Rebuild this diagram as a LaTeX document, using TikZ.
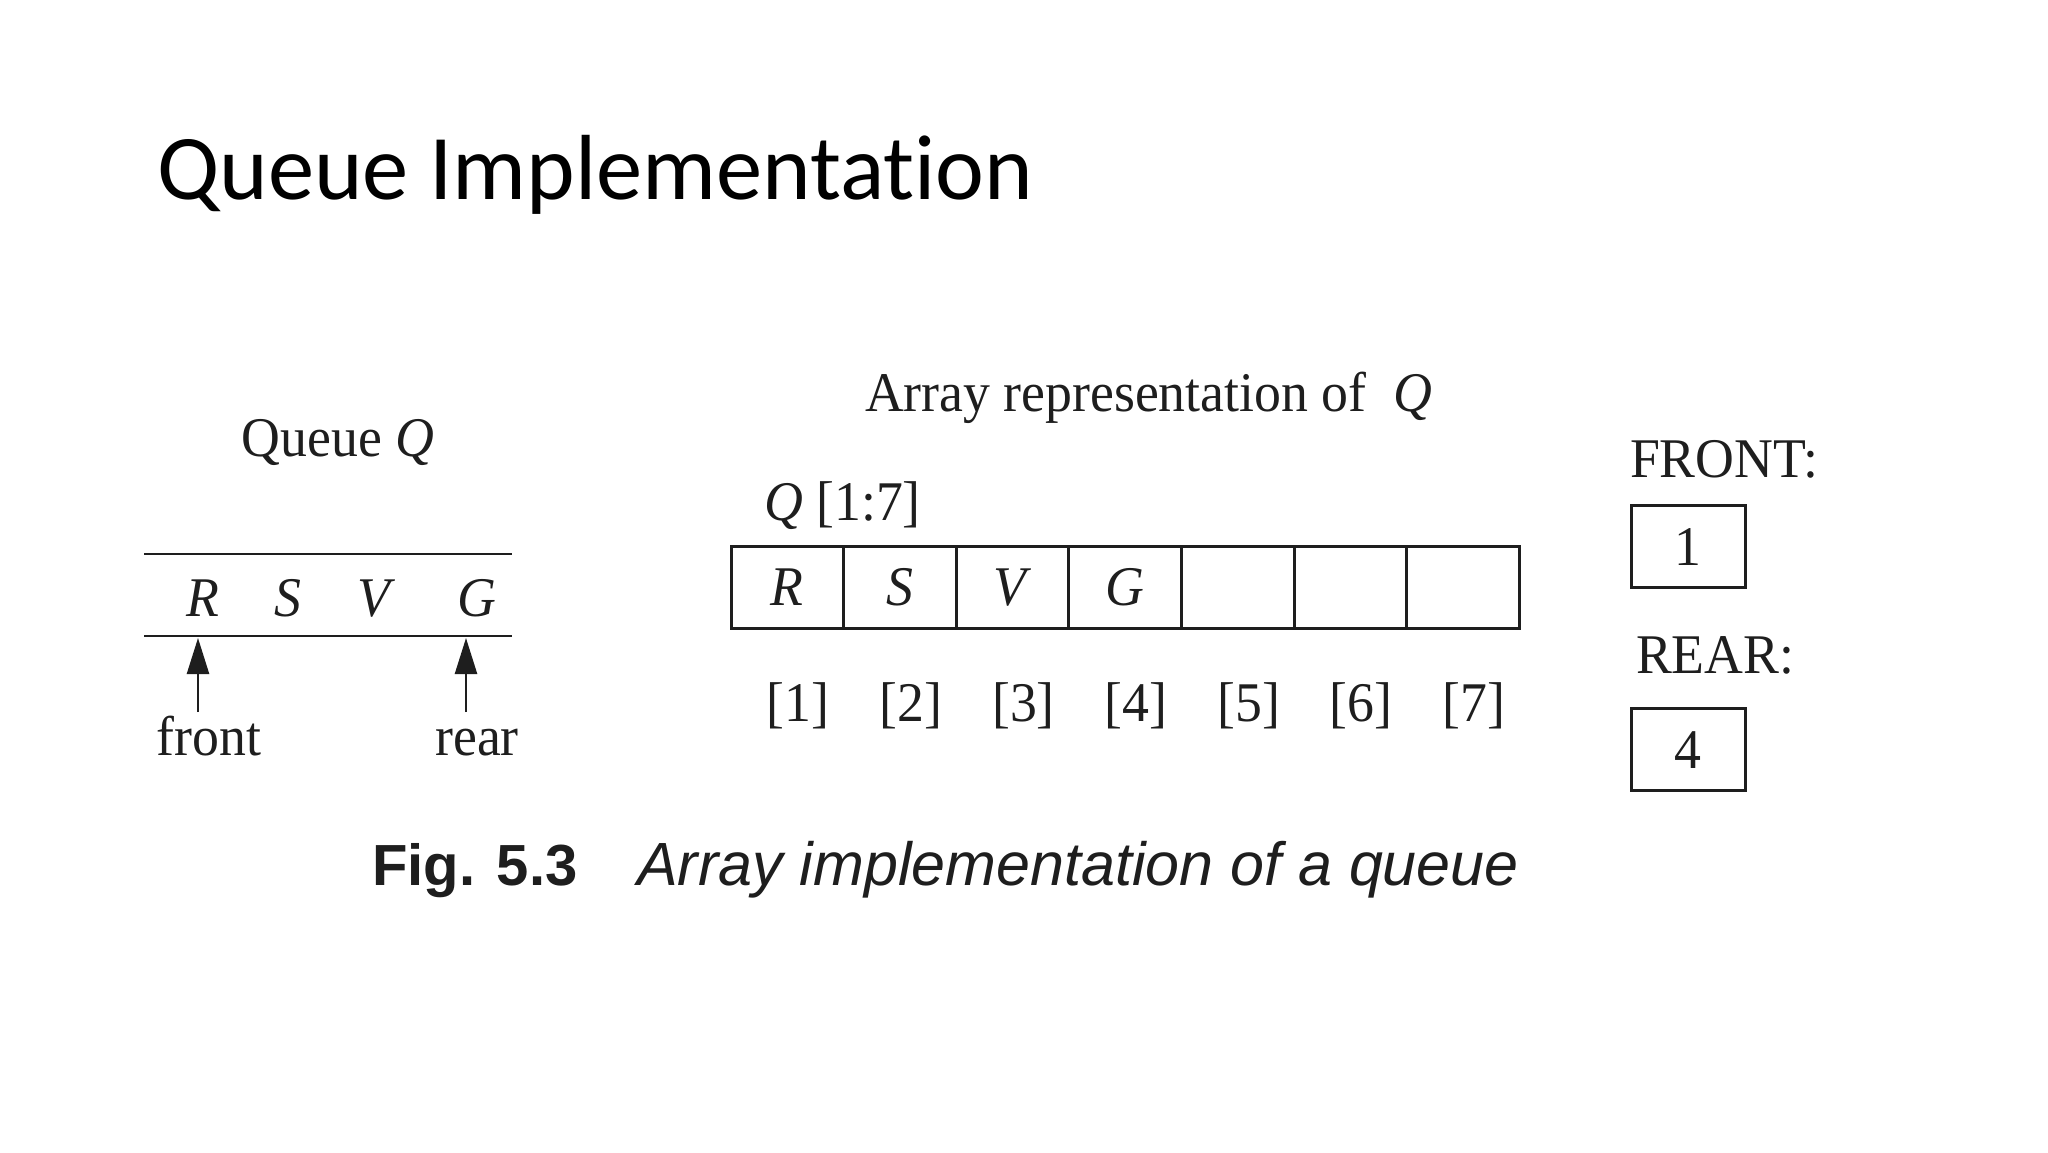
\documentclass[tikz,border=0pt]{standalone}
\usepackage{fontspec}
\setmainfont[FakeStretch=0.96]{Liberation Serif}
\newfontfamily\titlefont[Ligatures=NoCommon]{Carlito}
\newfontfamily\capfont{Liberation Sans}
\usetikzlibrary{arrows.meta,calc}
\definecolor{ink}{HTML}{1E1E1E}
\begin{document}
\begin{tikzpicture}[x=1pt,y=-1pt,
  txt/.style={inner sep=0pt, outer sep=0pt, text=ink, font=\fontsize{56}{60}\selectfont},
  cell/.style={draw=ink, line width=3pt, minimum width=112.6pt, minimum height=82pt,
     inner sep=0pt, outer sep=0pt, anchor=north west, text=ink, text height=37pt, text depth=0pt,
     font=\fontsize{56}{60}\selectfont},
  regbox/.style={draw=ink, line width=3pt, minimum width=114pt, minimum height=82pt,
     inner sep=0pt, outer sep=0pt, anchor=north west, text=ink, text height=38pt, text depth=0pt,
     font=\fontsize{56}{60}\selectfont},
  qline/.style={draw=ink, line width=2.8pt},
  ptr/.style={draw=ink, line width=2.5pt, -{Triangle[length=36pt,width=22pt]}}
]
\useasboundingbox[fill=white] (0,0) rectangle (2048,1152);

% title
\node[inner sep=0pt, anchor=base west, text=black, font=\titlefont\fontsize{92.5}{98}\selectfont] (title) at (157,199) {Queue Implementation};

% left: queue
\node[txt, anchor=base] (qlab) at (338,456) {Queue \textit{Q}};
\coordinate (tl) at (144,554); \coordinate (tr) at (512,554);
\coordinate (bl) at (144,636); \coordinate (br) at (512,636);
\draw[qline] (tl) -- (tr);
\draw[qline] (bl) -- (br);
\node[txt, anchor=base] (qr) at (203,616) {\textit{R}};
\node[txt, anchor=base] (qs) at (288,616) {\textit{S}};
\node[txt, anchor=base] (qv) at (377,616) {\textit{V}};
\node[txt, anchor=base] (qg) at (477,616) {\textit{G}};
\coordinate (fa) at (198,712); \coordinate (fb) at (198,638);
\coordinate (ra) at (466,712); \coordinate (rb) at (466,638);
\draw[ptr] (fa) -- (fb);
\draw[ptr] (ra) -- (rb);
\node[txt, anchor=base] (front) at (209,755) {front};
\node[txt, anchor=base] (rear) at (477,755) {rear};

% middle: array
\node[txt, anchor=base west] (alab) at (865,411) {Array representation of\ \ \textit{Q}};
\node[txt, anchor=base west] (qdim) at (764,520) {\textit{Q} [1:7]};
\node[cell] (c1) at (731.0,546) {\textit{R}};
\node[cell] (c2) at (843.6,546) {\textit{S}};
\node[cell] (c3) at (956.2,546) {\textit{V}};
\node[cell] (c4) at (1068.8,546) {\textit{G}};
\node[cell] (c5) at (1181.4,546) {};
\node[cell] (c6) at (1294.0,546) {};
\node[cell] (c7) at (1406.6,546) {};
\foreach \i in {1,...,7}{
  \node[txt, anchor=base] (i\i) at ($(c\i.center)+(11,0)$) [yshift=-134pt] {[\i]};
}

% right: registers
\node[txt, anchor=base west] (flab) at (1630,477) {FRONT:};
\node[regbox] (fbox) at (1631,505) {1};
\node[txt, anchor=base west] (rlab) at (1636,673) {REAR:};
\node[regbox] (rbox) at (1631,708) {4};

% caption
\node[inner sep=0pt, anchor=base west, text=ink, font=\capfont\bfseries\fontsize{58}{66}\selectfont] (fig) at (372,885) {Fig. 5.3};
\node[inner sep=0pt, anchor=base west, text=ink, font=\capfont\itshape\fontsize{61}{66}\selectfont] (cap) at (637,885) {Array implementation of a queue};
\end{tikzpicture}
\end{document}
